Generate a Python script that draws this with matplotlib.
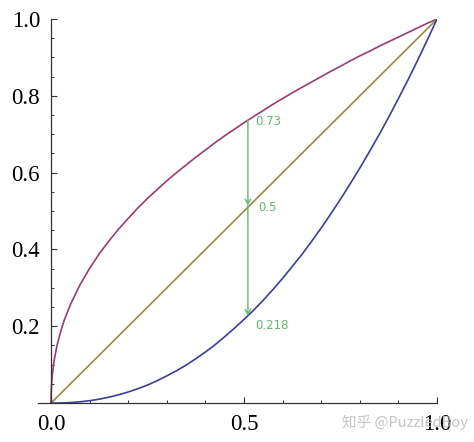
import matplotlib
matplotlib.use("Agg")
import matplotlib.pyplot as plt
from matplotlib.ticker import MultipleLocator

# values
x_vals = [0.0, 0.0002, 0.001, 0.003, 0.0075, 0.015, 0.025, 0.035, 0.05, 0.075,
          0.1, 0.125, 0.15, 0.175, 0.2, 0.225, 0.25, 0.275, 0.3, 0.325, 0.35, 0.375,
          0.4, 0.425, 0.45, 0.475, 0.5, 0.525, 0.55, 0.575, 0.6, 0.625, 0.65, 0.675,
          0.7, 0.725, 0.75, 0.775, 0.8, 0.825, 0.85, 0.875, 0.9, 0.925, 0.95, 0.975, 1.0]
upper = [0.0, 0.021, 0.043, 0.071, 0.108, 0.148, 0.187, 0.218, 0.256, 0.308,
         0.351, 0.389, 0.422, 0.453, 0.481, 0.508, 0.533, 0.556, 0.579, 0.600, 0.620, 0.640,
         0.659, 0.678, 0.696, 0.713, 0.730, 0.746, 0.762, 0.778, 0.793, 0.808, 0.822, 0.836,
         0.850, 0.864, 0.877, 0.891, 0.904, 0.916, 0.929, 0.941, 0.953, 0.965, 0.977, 0.989, 1.0]
lower = [0.0, 0.0, 0.0, 0.0, 0.0, 0.0001, 0.0003, 0.0006, 0.0014, 0.0033,
         0.0063, 0.0103, 0.0154, 0.0216, 0.029, 0.0375, 0.047, 0.0584, 0.071, 0.0843, 0.099, 0.1155,
         0.133, 0.152, 0.173, 0.195, 0.218, 0.242, 0.268, 0.296, 0.325, 0.356, 0.387, 0.421,
         0.456, 0.493, 0.531, 0.571, 0.612, 0.655, 0.699, 0.745, 0.793, 0.842, 0.893, 0.946, 1.0]
diag = x_vals

arrow_x = 0.51
arrow_levels = [0.737, 0.515, 0.228]
arrow_labels = ["0.73", "0.5", "0.218"]

c_blue = (0.24, 0.24, 0.6)
c_purple = (0.6, 0.24, 0.443)
c_olive = (0.6, 0.547, 0.24)
c_green = "#66b56e"

fig = plt.figure(figsize=(4.74, 4.42), dpi=100)
ax = fig.add_axes([0.080, 0.088, 0.842, 0.869])

ax.plot(x_vals, upper, color=c_purple, lw=1.2)
ax.plot(x_vals, diag, color=c_olive, lw=1.2)
ax.plot(x_vals, lower, color=c_blue, lw=1.2)

# green arrows
for y0, y1 in zip(arrow_levels[:-1], arrow_levels[1:]):
    ax.annotate("", xy=(arrow_x, y1), xytext=(arrow_x, y0),
                arrowprops=dict(arrowstyle="->,head_length=0.35,head_width=0.2",
                                color=c_green, lw=1.0, shrinkA=0, shrinkB=0))
for y, lab in zip(arrow_levels, arrow_labels):
    dy = -0.02 if lab == "0.218" else 0.0
    ax.text(arrow_x + 0.02 + (0.008 if lab == "0.5" else 0), y + dy - 0.005, lab,
            color=c_green, fontsize=8.5, family="DejaVu Sans", va="center", ha="left")

ax.set_xlim(-0.034, 1.0)
ax.set_ylim(0, 1.0)
for s in ["top", "right"]:
    ax.spines[s].set_visible(False)
ax.spines["left"].set_position(("data", 0))
ax.spines["bottom"].set_position(("data", 0))
for s in ["left", "bottom"]:
    ax.spines[s].set_linewidth(0.9)
    ax.spines[s].set_color("#333333")

ax.xaxis.set_major_locator(MultipleLocator(0.5))
ax.xaxis.set_minor_locator(MultipleLocator(0.1))
ax.yaxis.set_major_locator(MultipleLocator(0.2))
ax.yaxis.set_minor_locator(MultipleLocator(0.05))
ax.set_yticks([0.2, 0.4, 0.6, 0.8, 1.0])
ax.set_yticklabels(["0.2", "0.4", "0.6", "0.8", "1.0"])
ax.set_xticks([0.0, 0.5, 1.0])
ax.set_xticklabels(["0.0", "0.5", "1.0"])
ax.tick_params(which="major", direction="in", length=4, width=0.8, color="#333333",
               labelsize=16.5, pad=8)
ax.tick_params(which="minor", direction="in", length=2.2, width=0.7, color="#333333")
for t in ax.get_xticklabels() + ax.get_yticklabels():
    t.set_family("Liberation Serif")

fig.text(0.722, 0.045, "知乎 @PuzzledBoy", color="#bdbdbd", alpha=0.9, fontsize=10.5,
         family=["Noto Sans CJK SC", "DejaVu Sans"], va="center", ha="left")

fig.savefig("out.png", dpi=100)
